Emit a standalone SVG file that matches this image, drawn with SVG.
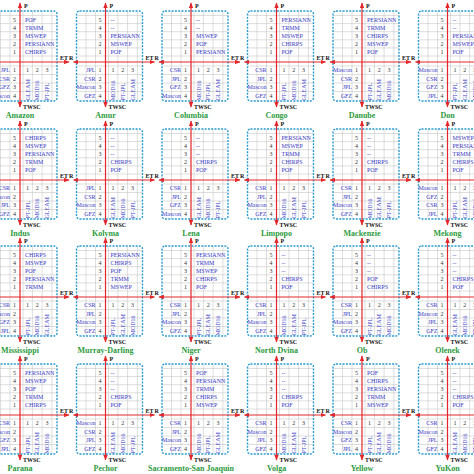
<svg xmlns="http://www.w3.org/2000/svg" xmlns:xlink="http://www.w3.org/1999/xlink" width="474" height="474" viewBox="0 0 474 474">
<style>
.g{stroke:#bdbdbd;stroke-width:0.5;fill:none}
.b{fill:none;stroke:#2a9bd0;stroke-width:1.4;stroke-dasharray:2 1.3}
.a{stroke:#e3262b;stroke-width:1.2;marker-start:url(#ah);marker-end:url(#ah)}
text{font-family:"Liberation Serif","Times New Roman",serif}
.nm{font-size:6px;fill:#3b3bc4}
.nu{font-size:6px;fill:#333}
.ax{font-size:6px;font-weight:bold;fill:#111}
.rv{font-size:8px;font-weight:bold;fill:#2e9b3e;text-anchor:middle}
.e{text-anchor:end}
.m{text-anchor:middle}
</style>
<defs>
<marker id="ah" viewBox="0 0 10 8" refX="9" refY="4" markerWidth="5.5" markerHeight="4.4" markerUnits="userSpaceOnUse" orient="auto-start-reverse"><path d="M0 0L10 4L0 8z" fill="#e3262b"/></marker>
<g id="f">
<path class="g" d="M-29 -46.5H37M-29 -38.4H37M-29 -30.3H37M-29 -22.2H37M-29 -14.1H37M-29 -6H37M-29 4H37M-29 12.5H37M-29 21H37M-29 29.5H37M-19.5 -51V39M-10 -51V39M3 -51V39M12.4 -51V39M22.1 -51V39M31.9 -51V39"/>
<rect class="b" x="-29" y="-51" width="66" height="90" rx="3"/>
<text class="nu e"><tspan x="-4" y="-40.5">5</tspan><tspan x="-4" y="-32.4">4</tspan><tspan x="-4" y="-24.3">3</tspan><tspan x="-4" y="-16.2">2</tspan><tspan x="-4" y="-8.1">1</tspan><tspan x="-4" y="10">1</tspan><tspan x="-4" y="18.5">2</tspan><tspan x="-4" y="27">3</tspan><tspan x="-4" y="35.8">4</tspan></text>
<text class="nu m"><tspan x="7.5" y="10">1</tspan><tspan x="17.3" y="10">2</tspan><tspan x="27" y="10">3</tspan></text>
<text class="ax"><tspan x="4" y="-54">P</tspan><tspan x="3" y="46.5">TWSC</tspan><tspan x="-36.5" y="-2">R</tspan></text>
<text class="ax e" x="48" y="-2">ET</text>
</g>
<g id="axes"><line class="a" x1="-32" y1="0" x2="49" y2="0"/><line class="a" x1="0" y1="-59" x2="0" y2="45"/></g>
</defs>
<rect width="474" height="474" fill="#fff"/>

<g id="amazon" transform="translate(20,62)"><use href="#f"/>
<text class="nm"><tspan x="5" y="-40.5">POF</tspan><tspan x="5" y="-32.4">TRMM</tspan><tspan x="5" y="-24.3">MSWEP</tspan><tspan x="5" y="-16.2">PERSIANN</tspan><tspan x="5" y="-8.1">CHIRPS</tspan></text>
<text class="nm e"><tspan x="-10" y="10">JPL</tspan><tspan x="-10" y="18.5">CSR</tspan><tspan x="-10" y="27">GFZ</tspan><tspan x="-10" y="35.8">Mascon</tspan></text>
<text class="nm" transform="translate(9.5,38.5) rotate(-90)">GLEAM</text><text class="nm" transform="translate(19.3,38.5) rotate(-90)">MOD16</text><text class="nm" transform="translate(29,38.5) rotate(-90)">PT-JPL</text>
<text class="rv" x="0" y="55.5">Amazon</text></g>

<g id="amur" transform="translate(105.5,62)"><use href="#f"/>
<text class="nm"><tspan x="5" y="-40.5">--</tspan><tspan x="5" y="-32.4">--</tspan><tspan x="5" y="-24.3">PERSIANN</tspan><tspan x="5" y="-16.2">MSWEP</tspan><tspan x="5" y="-8.1">POF</tspan></text>
<text class="nm e"><tspan x="-10" y="10">JPL</tspan><tspan x="-10" y="18.5">CSR</tspan><tspan x="-10" y="27">Mascon</tspan><tspan x="-10" y="35.8">GFZ</tspan></text>
<text class="nm" transform="translate(9.5,38.5) rotate(-90)">MOD16</text><text class="nm" transform="translate(19.3,38.5) rotate(-90)">PT-JPL</text><text class="nm" transform="translate(29,38.5) rotate(-90)">GLEAM</text>
<text class="rv" x="0" y="55.5">Amur</text></g>

<g id="columbia" transform="translate(191,62)"><use href="#f"/>
<text class="nm"><tspan x="5" y="-40.5">--</tspan><tspan x="5" y="-32.4">--</tspan><tspan x="5" y="-24.3">MSWEP</tspan><tspan x="5" y="-16.2">POF</tspan><tspan x="5" y="-8.1">PERSIANN</tspan></text>
<text class="nm e"><tspan x="-10" y="10">CSR</tspan><tspan x="-10" y="18.5">JPL</tspan><tspan x="-10" y="27">GFZ</tspan><tspan x="-10" y="35.8">Mascon</tspan></text>
<text class="nm" transform="translate(9.5,38.5) rotate(-90)">MOD16</text><text class="nm" transform="translate(19.3,38.5) rotate(-90)">PT-JPL</text><text class="nm" transform="translate(29,38.5) rotate(-90)">GLEAM</text>
<text class="rv" x="0" y="55.5">Columbia</text></g>

<g id="congo" transform="translate(276.5,62)"><use href="#f"/>
<text class="nm"><tspan x="5" y="-40.5">PERSIANN</tspan><tspan x="5" y="-32.4">TRMM</tspan><tspan x="5" y="-24.3">MSWEP</tspan><tspan x="5" y="-16.2">CHIRPS</tspan><tspan x="5" y="-8.1">POF</tspan></text>
<text class="nm e"><tspan x="-10" y="10">CSR</tspan><tspan x="-10" y="18.5">JPL</tspan><tspan x="-10" y="27">Mascon</tspan><tspan x="-10" y="35.8">GFZ</tspan></text>
<text class="nm" transform="translate(9.5,38.5) rotate(-90)">PT-JPL</text><text class="nm" transform="translate(19.3,38.5) rotate(-90)">MOD16</text><text class="nm" transform="translate(29,38.5) rotate(-90)">GLEAM</text>
<text class="rv" x="0" y="55.5">Congo</text></g>

<g id="danube" transform="translate(362,62)"><use href="#f"/>
<text class="nm"><tspan x="5" y="-40.5">PERSIANN</tspan><tspan x="5" y="-32.4">TRMM</tspan><tspan x="5" y="-24.3">CHIRPS</tspan><tspan x="5" y="-16.2">MSWEP</tspan><tspan x="5" y="-8.1">POF</tspan></text>
<text class="nm e"><tspan x="-10" y="10">Mascon</tspan><tspan x="-10" y="18.5">CSR</tspan><tspan x="-10" y="27">JPL</tspan><tspan x="-10" y="35.8">GFZ</tspan></text>
<text class="nm" transform="translate(9.5,38.5) rotate(-90)">PT-JPL</text><text class="nm" transform="translate(19.3,38.5) rotate(-90)">GLEAM</text><text class="nm" transform="translate(29,38.5) rotate(-90)">MOD16</text>
<text class="rv" x="0" y="55.5">Danube</text></g>

<g id="don" transform="translate(447.5,62)"><use href="#f"/>
<text class="nm"><tspan x="5" y="-40.5">--</tspan><tspan x="5" y="-32.4">--</tspan><tspan x="5" y="-24.3">PERSIANN</tspan><tspan x="5" y="-16.2">MSWEP</tspan><tspan x="5" y="-8.1">POF</tspan></text>
<text class="nm e"><tspan x="-10" y="10">Mascon</tspan><tspan x="-10" y="18.5">CSR</tspan><tspan x="-10" y="27">GFZ</tspan><tspan x="-10" y="35.8">JPL</tspan></text>
<text class="nm" transform="translate(9.5,38.5) rotate(-90)">PT-JPL</text><text class="nm" transform="translate(19.3,38.5) rotate(-90)">GLEAM</text><text class="nm" transform="translate(29,38.5) rotate(-90)">MOD16</text>
<text class="rv" x="0" y="55.5">Don</text></g>

<g id="indus" transform="translate(20,180)"><use href="#f"/>
<text class="nm"><tspan x="5" y="-40.5">CHIRPS</tspan><tspan x="5" y="-32.4">MSWEP</tspan><tspan x="5" y="-24.3">PERSIANN</tspan><tspan x="5" y="-16.2">TRMM</tspan><tspan x="5" y="-8.1">POF</tspan></text>
<text class="nm e"><tspan x="-10" y="10">CSR</tspan><tspan x="-10" y="18.5">Mascon</tspan><tspan x="-10" y="27">JPL</tspan><tspan x="-10" y="35.8">GFZ</tspan></text>
<text class="nm" transform="translate(9.5,38.5) rotate(-90)">PT-JPL</text><text class="nm" transform="translate(19.3,38.5) rotate(-90)">MOD16</text><text class="nm" transform="translate(29,38.5) rotate(-90)">GLEAM</text>
<text class="rv" x="0" y="55.5">Indus</text></g>

<g id="kolyma" transform="translate(105.5,180)"><use href="#f"/>
<text class="nm"><tspan x="5" y="-40.5">--</tspan><tspan x="5" y="-32.4">--</tspan><tspan x="5" y="-24.3">--</tspan><tspan x="5" y="-16.2">CHIRPS</tspan><tspan x="5" y="-8.1">POF</tspan></text>
<text class="nm e"><tspan x="-10" y="10">JPL</tspan><tspan x="-10" y="18.5">CSR</tspan><tspan x="-10" y="27">Mascon</tspan><tspan x="-10" y="35.8">GFZ</tspan></text>
<text class="nm" transform="translate(9.5,38.5) rotate(-90)">GLEAM</text><text class="nm" transform="translate(19.3,38.5) rotate(-90)">MOD16</text><text class="nm" transform="translate(29,38.5) rotate(-90)">PT-JPL</text>
<text class="rv" x="0" y="55.5">Kolyma</text></g>

<g id="lena" transform="translate(191,180)"><use href="#f"/>
<text class="nm"><tspan x="5" y="-40.5">--</tspan><tspan x="5" y="-32.4">--</tspan><tspan x="5" y="-24.3">--</tspan><tspan x="5" y="-16.2">CHIRPS</tspan><tspan x="5" y="-8.1">POF</tspan></text>
<text class="nm e"><tspan x="-10" y="10">CSR</tspan><tspan x="-10" y="18.5">JPL</tspan><tspan x="-10" y="27">GFZ</tspan><tspan x="-10" y="35.8">Mascon</tspan></text>
<text class="nm" transform="translate(9.5,38.5) rotate(-90)">GLEAM</text><text class="nm" transform="translate(19.3,38.5) rotate(-90)">MOD16</text><text class="nm" transform="translate(29,38.5) rotate(-90)">PT-JPL</text>
<text class="rv" x="0" y="55.5">Lena</text></g>

<g id="limpopo" transform="translate(276.5,180)"><use href="#f"/>
<text class="nm"><tspan x="5" y="-40.5">PERSIANN</tspan><tspan x="5" y="-32.4">MSWEP</tspan><tspan x="5" y="-24.3">TRMM</tspan><tspan x="5" y="-16.2">CHIRPS</tspan><tspan x="5" y="-8.1">POF</tspan></text>
<text class="nm e"><tspan x="-10" y="10">CSR</tspan><tspan x="-10" y="18.5">JPL</tspan><tspan x="-10" y="27">Mascon</tspan><tspan x="-10" y="35.8">GFZ</tspan></text>
<text class="nm" transform="translate(9.5,38.5) rotate(-90)">MOD16</text><text class="nm" transform="translate(19.3,38.5) rotate(-90)">GLEAM</text><text class="nm" transform="translate(29,38.5) rotate(-90)">PT-JPL</text>
<text class="rv" x="0" y="55.5">Limpopo</text></g>

<g id="mackenzie" transform="translate(362,180)"><use href="#f"/>
<text class="nm"><tspan x="5" y="-40.5">--</tspan><tspan x="5" y="-32.4">--</tspan><tspan x="5" y="-24.3">--</tspan><tspan x="5" y="-16.2">CHIRPS</tspan><tspan x="5" y="-8.1">POF</tspan></text>
<text class="nm e"><tspan x="-10" y="10">CSR</tspan><tspan x="-10" y="18.5">JPL</tspan><tspan x="-10" y="27">Mascon</tspan><tspan x="-10" y="35.8">GFZ</tspan></text>
<text class="nm" transform="translate(9.5,38.5) rotate(-90)">MOD16</text><text class="nm" transform="translate(19.3,38.5) rotate(-90)">GLEAM</text><text class="nm" transform="translate(29,38.5) rotate(-90)">PT-JPL</text>
<text class="rv" x="0" y="55.5">Mackenzie</text></g>

<g id="mekong" transform="translate(447.5,180)"><use href="#f"/>
<text class="nm"><tspan x="5" y="-40.5">MSWEP</tspan><tspan x="5" y="-32.4">PERSIANN</tspan><tspan x="5" y="-24.3">TRMM</tspan><tspan x="5" y="-16.2">CHIRPS</tspan><tspan x="5" y="-8.1">POF</tspan></text>
<text class="nm e"><tspan x="-10" y="10">Mascon</tspan><tspan x="-10" y="18.5">GFZ</tspan><tspan x="-10" y="27">CSR</tspan><tspan x="-10" y="35.8">JPL</tspan></text>
<text class="nm" transform="translate(9.5,38.5) rotate(-90)">PT-JPL</text><text class="nm" transform="translate(19.3,38.5) rotate(-90)">GLEAM</text><text class="nm" transform="translate(29,38.5) rotate(-90)">MOD16</text>
<text class="rv" x="0" y="55.5">Mekong</text></g>

<g id="mississippi" transform="translate(20,297)"><use href="#f"/>
<text class="nm"><tspan x="5" y="-40.5">CHIRPS</tspan><tspan x="5" y="-32.4">MSWEP</tspan><tspan x="5" y="-24.3">POF</tspan><tspan x="5" y="-16.2">PERSIANN</tspan><tspan x="5" y="-8.1">TRMM</tspan></text>
<text class="nm e"><tspan x="-10" y="10">CSR</tspan><tspan x="-10" y="18.5">Mascon</tspan><tspan x="-10" y="27">GFZ</tspan><tspan x="-10" y="35.8">JPL</tspan></text>
<text class="nm" transform="translate(9.5,38.5) rotate(-90)">PT-JPL</text><text class="nm" transform="translate(19.3,38.5) rotate(-90)">MOD16</text><text class="nm" transform="translate(29,38.5) rotate(-90)">GLEAM</text>
<text class="rv" x="0" y="55.5">Mississippi</text></g>

<g id="murray-darling" transform="translate(105.5,297)"><use href="#f"/>
<text class="nm"><tspan x="5" y="-40.5">PERSIANN</tspan><tspan x="5" y="-32.4">CHIRPS</tspan><tspan x="5" y="-24.3">POF</tspan><tspan x="5" y="-16.2">TRMM</tspan><tspan x="5" y="-8.1">MSWEP</tspan></text>
<text class="nm e"><tspan x="-10" y="10">CSR</tspan><tspan x="-10" y="18.5">JPL</tspan><tspan x="-10" y="27">Mascon</tspan><tspan x="-10" y="35.8">GFZ</tspan></text>
<text class="nm" transform="translate(9.5,38.5) rotate(-90)">PT-JPL</text><text class="nm" transform="translate(19.3,38.5) rotate(-90)">GLEAM</text><text class="nm" transform="translate(29,38.5) rotate(-90)">MOD16</text>
<text class="rv" x="0" y="55.5">Murray-Darling</text></g>

<g id="niger" transform="translate(191,297)"><use href="#f"/>
<text class="nm"><tspan x="5" y="-40.5">PERSIANN</tspan><tspan x="5" y="-32.4">TRMM</tspan><tspan x="5" y="-24.3">MSWEP</tspan><tspan x="5" y="-16.2">CHIRPS</tspan><tspan x="5" y="-8.1">POF</tspan></text>
<text class="nm e"><tspan x="-10" y="10">CSR</tspan><tspan x="-10" y="18.5">JPL</tspan><tspan x="-10" y="27">Mascon</tspan><tspan x="-10" y="35.8">GFZ</tspan></text>
<text class="nm" transform="translate(9.5,38.5) rotate(-90)">PT-JPL</text><text class="nm" transform="translate(19.3,38.5) rotate(-90)">GLEAM</text><text class="nm" transform="translate(29,38.5) rotate(-90)">MOD16</text>
<text class="rv" x="0" y="55.5">Niger</text></g>

<g id="north-dvina" transform="translate(276.5,297)"><use href="#f"/>
<text class="nm"><tspan x="5" y="-40.5">--</tspan><tspan x="5" y="-32.4">--</tspan><tspan x="5" y="-24.3">--</tspan><tspan x="5" y="-16.2">CHIRPS</tspan><tspan x="5" y="-8.1">POF</tspan></text>
<text class="nm e"><tspan x="-10" y="10">CSR</tspan><tspan x="-10" y="18.5">JPL</tspan><tspan x="-10" y="27">Mascon</tspan><tspan x="-10" y="35.8">GFZ</tspan></text>
<text class="nm" transform="translate(9.5,38.5) rotate(-90)">MOD16</text><text class="nm" transform="translate(19.3,38.5) rotate(-90)">GLEAM</text><text class="nm" transform="translate(29,38.5) rotate(-90)">PT-JPL</text>
<text class="rv" x="0" y="55.5">North Dvina</text></g>

<g id="ob" transform="translate(362,297)"><use href="#f"/>
<text class="nm"><tspan x="5" y="-40.5">--</tspan><tspan x="5" y="-32.4">--</tspan><tspan x="5" y="-24.3">--</tspan><tspan x="5" y="-16.2">POF</tspan><tspan x="5" y="-8.1">CHIRPS</tspan></text>
<text class="nm e"><tspan x="-10" y="10">CSR</tspan><tspan x="-10" y="18.5">JPL</tspan><tspan x="-10" y="27">Mascon</tspan><tspan x="-10" y="35.8">GFZ</tspan></text>
<text class="nm" transform="translate(9.5,38.5) rotate(-90)">PT-JPL</text><text class="nm" transform="translate(19.3,38.5) rotate(-90)">GLEAM</text><text class="nm" transform="translate(29,38.5) rotate(-90)">MOD16</text>
<text class="rv" x="0" y="55.5">Ob</text></g>

<g id="olenek" transform="translate(447.5,297)"><use href="#f"/>
<text class="nm"><tspan x="5" y="-40.5">--</tspan><tspan x="5" y="-32.4">--</tspan><tspan x="5" y="-24.3">--</tspan><tspan x="5" y="-16.2">CHIRPS</tspan><tspan x="5" y="-8.1">POF</tspan></text>
<text class="nm e"><tspan x="-10" y="10">CSR</tspan><tspan x="-10" y="18.5">Mascon</tspan><tspan x="-10" y="27">JPL</tspan><tspan x="-10" y="35.8">GFZ</tspan></text>
<text class="nm" transform="translate(9.5,38.5) rotate(-90)">GLEAM</text><text class="nm" transform="translate(19.3,38.5) rotate(-90)">MOD16</text><text class="nm" transform="translate(29,38.5) rotate(-90)">PT-JPL</text>
<text class="rv" x="0" y="55.5">Olenek</text></g>

<g id="parana" transform="translate(20,415)"><use href="#f"/>
<text class="nm"><tspan x="5" y="-40.5">PERSIANN</tspan><tspan x="5" y="-32.4">MSWEP</tspan><tspan x="5" y="-24.3">POF</tspan><tspan x="5" y="-16.2">TRMM</tspan><tspan x="5" y="-8.1">CHIRPS</tspan></text>
<text class="nm e"><tspan x="-10" y="10">CSR</tspan><tspan x="-10" y="18.5">Mascon</tspan><tspan x="-10" y="27">GFZ</tspan><tspan x="-10" y="35.8">JPL</tspan></text>
<text class="nm" transform="translate(9.5,38.5) rotate(-90)">PT-JPL</text><text class="nm" transform="translate(19.3,38.5) rotate(-90)">GLEAM</text><text class="nm" transform="translate(29,38.5) rotate(-90)">MOD16</text>
<text class="rv" x="0" y="55.5">Parana</text></g>

<g id="pechor" transform="translate(105.5,415)"><use href="#f"/>
<text class="nm"><tspan x="5" y="-40.5">--</tspan><tspan x="5" y="-32.4">--</tspan><tspan x="5" y="-24.3">--</tspan><tspan x="5" y="-16.2">CHIRPS</tspan><tspan x="5" y="-8.1">POF</tspan></text>
<text class="nm e"><tspan x="-10" y="10">Mascon</tspan><tspan x="-10" y="18.5">CSR</tspan><tspan x="-10" y="27">JPL</tspan><tspan x="-10" y="35.8">GFZ</tspan></text>
<text class="nm" transform="translate(9.5,38.5) rotate(-90)">GLEAM</text><text class="nm" transform="translate(19.3,38.5) rotate(-90)">MOD16</text><text class="nm" transform="translate(29,38.5) rotate(-90)">PT-JPL</text>
<text class="rv" x="0" y="55.5">Pechor</text></g>

<g id="sacramento" transform="translate(191,415)"><use href="#f"/>
<text class="nm"><tspan x="5" y="-40.5">POF</tspan><tspan x="5" y="-32.4">PERSIANN</tspan><tspan x="5" y="-24.3">TRMM</tspan><tspan x="5" y="-16.2">CHIRPS</tspan><tspan x="5" y="-8.1">MSWEP</tspan></text>
<text class="nm e"><tspan x="-10" y="10">CSR</tspan><tspan x="-10" y="18.5">JPL</tspan><tspan x="-10" y="27">Mascon</tspan><tspan x="-10" y="35.8">GFZ</tspan></text>
<text class="nm" transform="translate(9.5,38.5) rotate(-90)">MOD16</text><text class="nm" transform="translate(19.3,38.5) rotate(-90)">PT-JPL</text><text class="nm" transform="translate(29,38.5) rotate(-90)">GLEAM</text>
<text class="rv" x="0" y="55.5">Sacramento-San Joaquin</text></g>

<g id="volga" transform="translate(276.5,415)"><use href="#f"/>
<text class="nm"><tspan x="5" y="-40.5">--</tspan><tspan x="5" y="-32.4">--</tspan><tspan x="5" y="-24.3">--</tspan><tspan x="5" y="-16.2">CHIRPS</tspan><tspan x="5" y="-8.1">POF</tspan></text>
<text class="nm e"><tspan x="-10" y="10">CSR</tspan><tspan x="-10" y="18.5">Mascon</tspan><tspan x="-10" y="27">JPL</tspan><tspan x="-10" y="35.8">GFZ</tspan></text>
<text class="nm" transform="translate(9.5,38.5) rotate(-90)">MOD16</text><text class="nm" transform="translate(19.3,38.5) rotate(-90)">GLEAM</text><text class="nm" transform="translate(29,38.5) rotate(-90)">PT-JPL</text>
<text class="rv" x="0" y="55.5">Volga</text></g>

<g id="yellow" transform="translate(362,415)"><use href="#f"/>
<text class="nm"><tspan x="5" y="-40.5">POF</tspan><tspan x="5" y="-32.4">CHIRPS</tspan><tspan x="5" y="-24.3">PERSIANN</tspan><tspan x="5" y="-16.2">TRMM</tspan><tspan x="5" y="-8.1">MSWEP</tspan></text>
<text class="nm e"><tspan x="-10" y="10">CSR</tspan><tspan x="-10" y="18.5">Mascon</tspan><tspan x="-10" y="27">GFZ</tspan><tspan x="-10" y="35.8">JPL</tspan></text>
<text class="nm" transform="translate(9.5,38.5) rotate(-90)">PT-JPL</text><text class="nm" transform="translate(19.3,38.5) rotate(-90)">GLEAM</text><text class="nm" transform="translate(29,38.5) rotate(-90)">MOD16</text>
<text class="rv" x="0" y="55.5">Yellow</text></g>

<g id="yukon" transform="translate(447.5,415)"><use href="#f"/>
<text class="nm"><tspan x="5" y="-40.5">--</tspan><tspan x="5" y="-32.4">--</tspan><tspan x="5" y="-24.3">--</tspan><tspan x="5" y="-16.2">CHIRPS</tspan><tspan x="5" y="-8.1">POF</tspan></text>
<text class="nm e"><tspan x="-10" y="10">CSR</tspan><tspan x="-10" y="18.5">Mascon</tspan><tspan x="-10" y="27">JPL</tspan><tspan x="-10" y="35.8">GFZ</tspan></text>
<text class="nm" transform="translate(9.5,38.5) rotate(-90)">GLEAM</text><text class="nm" transform="translate(19.3,38.5) rotate(-90)">MOD16</text><text class="nm" transform="translate(29,38.5) rotate(-90)">PT-JPL</text>
<text class="rv" x="0" y="55.5">YuKon</text></g>

<g id="connectors">
<use href="#axes" transform="translate(20,62)"/><use href="#axes" transform="translate(105.5,62)"/><use href="#axes" transform="translate(191,62)"/><use href="#axes" transform="translate(276.5,62)"/><use href="#axes" transform="translate(362,62)"/><use href="#axes" transform="translate(447.5,62)"/>
<use href="#axes" transform="translate(20,180)"/><use href="#axes" transform="translate(105.5,180)"/><use href="#axes" transform="translate(191,180)"/><use href="#axes" transform="translate(276.5,180)"/><use href="#axes" transform="translate(362,180)"/><use href="#axes" transform="translate(447.5,180)"/>
<use href="#axes" transform="translate(20,297)"/><use href="#axes" transform="translate(105.5,297)"/><use href="#axes" transform="translate(191,297)"/><use href="#axes" transform="translate(276.5,297)"/><use href="#axes" transform="translate(362,297)"/><use href="#axes" transform="translate(447.5,297)"/>
<use href="#axes" transform="translate(20,415)"/><use href="#axes" transform="translate(105.5,415)"/><use href="#axes" transform="translate(191,415)"/><use href="#axes" transform="translate(276.5,415)"/><use href="#axes" transform="translate(362,415)"/><use href="#axes" transform="translate(447.5,415)"/>
</g>
</svg>
